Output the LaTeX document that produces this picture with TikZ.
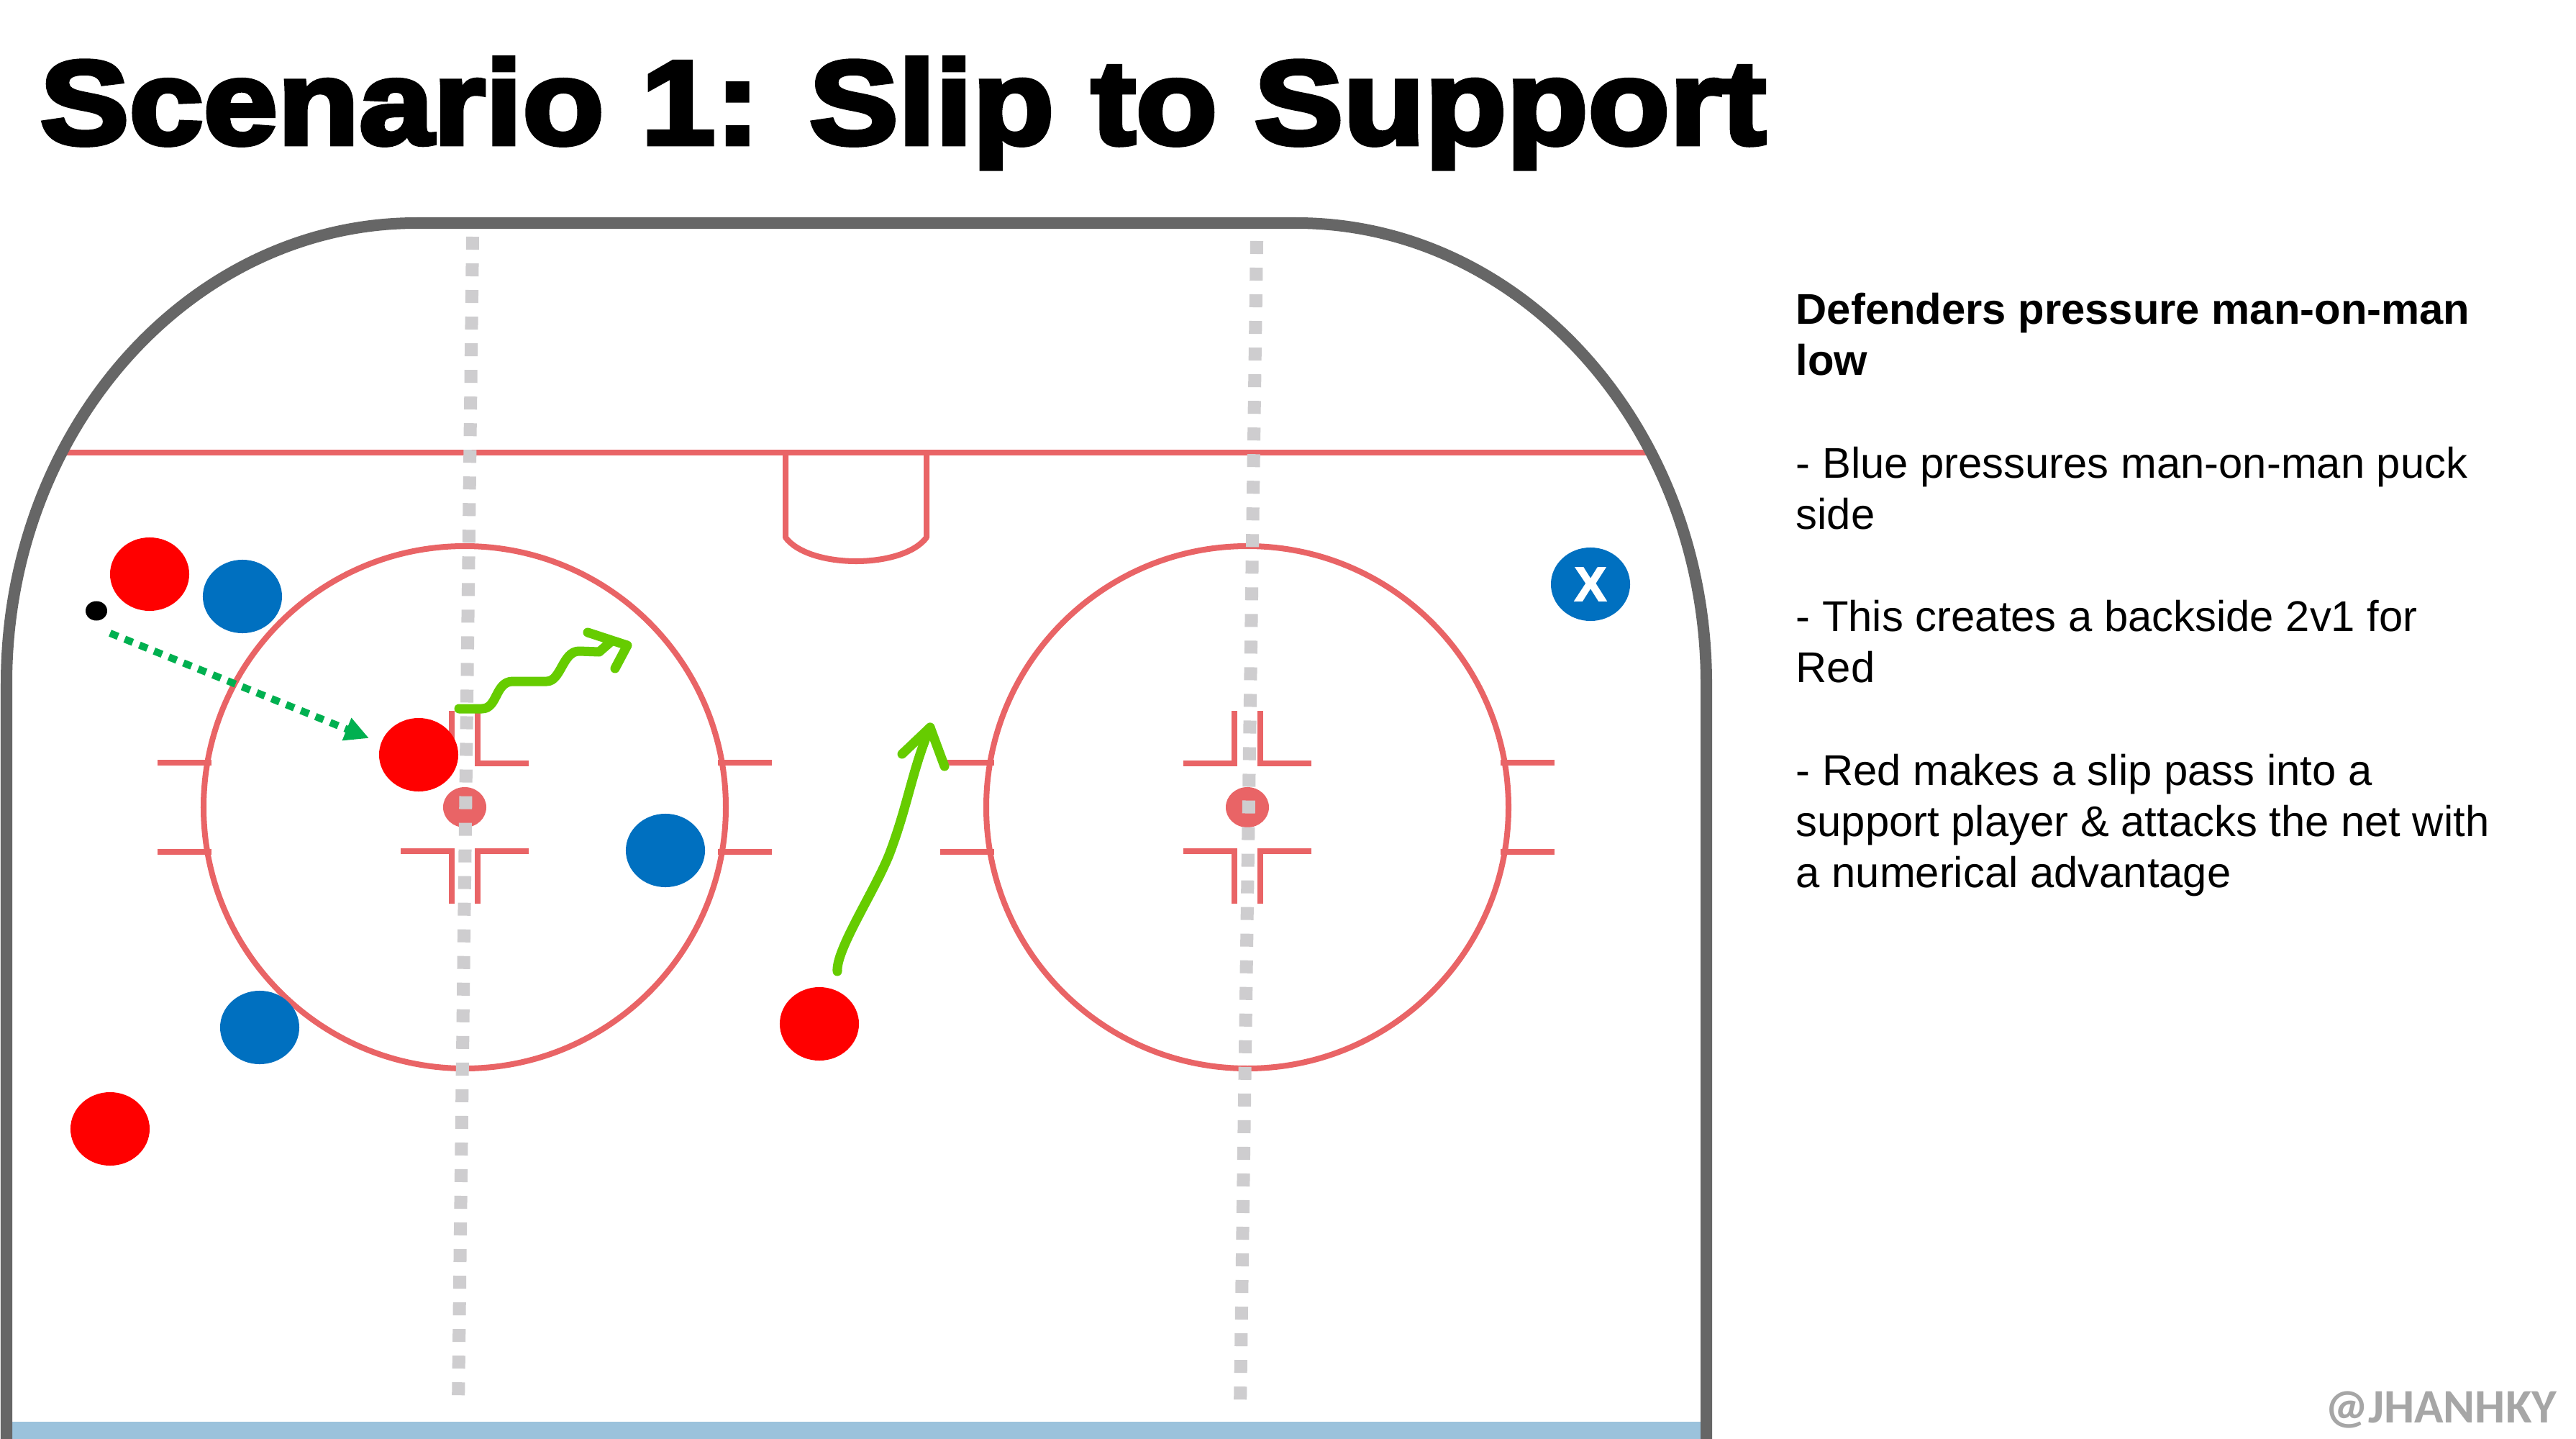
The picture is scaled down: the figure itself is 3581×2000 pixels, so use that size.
\documentclass[tikz,border=0pt]{standalone}
\usepackage{fontspec}
\setmainfont{Liberation Sans}
\newfontfamily\titlefont[FakeBold=4,FakeStretch=1.123]{Liberation Sans Bold}
\newfontfamily\xfont[FakeBold=2.5]{Liberation Sans Bold}
\newfontfamily\markfont{Carlito}
\usetikzlibrary{shapes.geometric,arrows.meta}
\definecolor{boardgray}{RGB}{102,102,102}
\definecolor{rinkred}{RGB}{233,100,102}
\definecolor{dashgray}{RGB}{206,205,207}
\definecolor{pred}{RGB}{255,0,0}
\definecolor{pblue}{RGB}{0,112,192}
\definecolor{passgreen}{RGB}{0,176,80}
\definecolor{skategreen}{RGB}{102,204,0}
\definecolor{iceblue}{RGB}{155,194,220}
\definecolor{wmgray}{RGB}{166,166,166}
\begin{document}
\begin{tikzpicture}[x=0.01cm,y=-0.01cm,
  board/.style={draw=boardgray, line width=4.55pt},
  rl/.style={draw=rinkred, line width=2.28pt},
  gdash/.style={draw=dashgray, line width=5.12pt, dash pattern=on 5.12pt off 5.41pt},
  player/.style={ellipse, minimum width=1.1cm, minimum height=1.02cm, inner sep=0pt},
  redP/.style={player, fill=pred},
  blueP/.style={player, fill=pblue},
  pass/.style={draw=passgreen, line width=2.85pt, dash pattern=on 3.41pt off 2.85pt},
  skate/.style={draw=skategreen, line width=3.7pt, line cap=round, line join=round},
  side/.style={anchor=base west, inner sep=0pt, font=\fontsize{17}{20}\selectfont},
  sideb/.style={side, font=\bfseries\fontsize{17}{20}\selectfont}]
\useasboundingbox (0,0) rectangle (3581,2000);
\fill[white] (0,0) rectangle (3581,2000);

% ice band at the bottom
\fill[iceblue] (9,1976) rectangle (2372,2000);

% red line (clipped to the rink)
\begin{scope}
\clip (9,2000) -- (9,950) .. controls (9,597) and (264,310) .. (579,310) -- (1802,310) .. controls (2117,310) and (2372,597) .. (2372,950) -- (2372,2000) -- cycle;
\draw[rl] (0,629) -- (2400,629);
\end{scope}

% crease
\draw[rl, line join=round] (1092,629) -- (1092,747) .. controls (1125,791) and (1255,791) .. (1288,747) -- (1288,629);

% faceoff circles
\draw[rl] (646,1122) circle[radius=363];
\draw[rl] (1734,1122) circle[radius=363];
\foreach \cx in {646,1734}{
  \begin{scope}[shift={(\cx,1122)}]
    \draw[rl] (-89,-61) -- (-18,-61) -- (-18,-134);
    \draw[rl] (89,-61) -- (18,-61) -- (18,-134);
    \draw[rl] (-89,61) -- (-18,61) -- (-18,134);
    \draw[rl] (89,61) -- (18,61) -- (18,134);
    \draw[rl] (-352,-62) -- (-427,-62);
    \draw[rl] (-352,62) -- (-427,62);
    \draw[rl] (352,-62) -- (427,-62);
    \draw[rl] (352,62) -- (427,62);
  \end{scope}
}
\node[ellipse, fill=rinkred, minimum width=0.6cm, minimum height=0.56cm, inner sep=0pt] (dotL) at (646,1122) {};
\node[ellipse, fill=rinkred, minimum width=0.6cm, minimum height=0.56cm, inner sep=0pt] (dotR) at (1734,1122) {};

% gray dashed lines
\draw[gdash] (657,329) -- (637,1955);
\draw[gdash] (1747,335) -- (1724,1957);

% boards
\draw[board] (9,2000) -- (9,950) .. controls (9,597) and (264,310) .. (579,310) -- (1802,310) .. controls (2117,310) and (2372,597) .. (2372,950) -- (2372,2000);

% players
\node[redP] (r1) at (208,798) {};
\node[blueP] (b1) at (337,829) {};
\node[redP] (r2) at (582,1049) {};
\node[blueP] (b2) at (925,1182) {};
\node[blueP] (b3) at (361,1428) {};
\node[redP] (r3) at (153,1569) {};
\node[redP] (r4) at (1139,1423) {};
\node[blueP, text=white, font=\xfont\fontsize{19}{19}\selectfont] (bx) at (2211,812) {X};
\node[ellipse, fill=black, minimum width=0.3cm, minimum height=0.27cm, inner sep=0pt] (puck) at (134,849) {};

% pass
\coordinate (pS) at (153,880);
\coordinate (pE) at (513,1026);
\draw[pass, -{Triangle[length=9.5pt,width=9pt]}] (pS) -- (pE);

% skating path 1 (from r2)
\coordinate (s1) at (638,985);
\coordinate (t1) at (872,897);
\draw[skate] (s1) -- (670,985) .. controls (692,985) and (688,947) .. (713,947) -- (760,947) .. controls (780,947) and (782,905) .. (805,905) -- (833,906) -- (849,892);
\draw[skate] (817,879) -- (t1) -- (855,929);

% skating path 2 (from r4)
\coordinate (s2) at (1164,1350);
\coordinate (t2) at (1293,1011);
\draw[skate] (s2) .. controls (1162,1320) and (1215,1240) .. (1236,1188) .. controls (1262,1120) and (1268,1070) .. (t2);
\draw[skate] (1254,1048) -- (t2) -- (1313,1065);

% title
\node[anchor=base west, inner sep=0pt, font=\titlefont\fontsize{47}{56}\selectfont] (title) at (55,200) {Scenario 1: Slip to Support};

% side text
\node[sideb] (l1) at (2496,450) {Defenders pressure man-on-man};
\node[sideb] (l2) at (2496,521) {low};
\node[side] (l3) at (2496,664) {- Blue pressures man-on-man puck};
\node[side] (l4) at (2496,735) {side};
\node[side] (l5) at (2496,877) {- This creates a backside 2v1 for};
\node[side] (l6) at (2496,948) {Red};
\node[side] (l7) at (2496,1091) {- Red makes a slip pass into a};
\node[side] (l8) at (2496,1162) {support player \& attacks the net with};
\node[side] (l9) at (2496,1233) {a numerical advantage};

% watermark
\node[anchor=base east, inner sep=0pt, text=wmgray, font=\markfont\bfseries\fontsize{19}{22}\selectfont] (wm) at (3555,1977) {@JHANHKY};
\end{tikzpicture}
\end{document}
